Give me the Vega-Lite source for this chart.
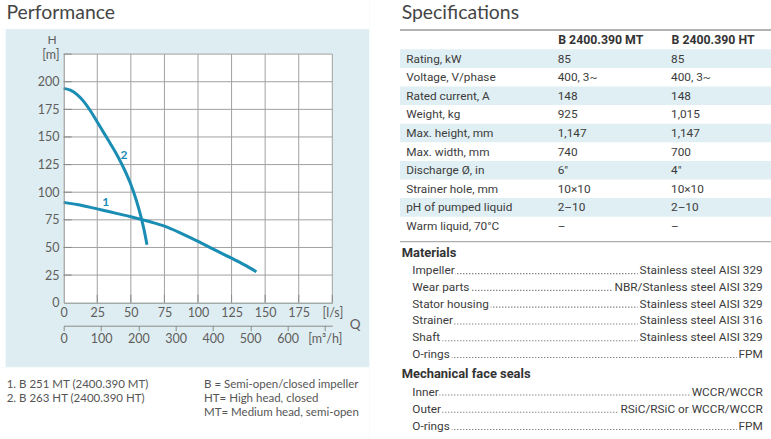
{
  "$schema": "https://vega.github.io/schema/vega-lite/v6.json",
  "width": 268.6,
  "height": 248.6,
  "autosize": {"type": "none"},
  "padding": {"left": 63.7, "top": 54.1, "right": 438.7, "bottom": 136.3},
  "background": "#deedf1",
  "config": {"view": {"fill": "white", "stroke": null}},
  "data": {"values": [{}]},
  "datasets": {
    "curves": [
      {"curve": "1", "q": 0, "h": 90.8}, {"curve": "1", "q": 10, "h": 88.8}, {"curve": "1", "q": 20, "h": 86.3},
      {"curve": "1", "q": 30, "h": 83.5}, {"curve": "1", "q": 40, "h": 80.6}, {"curve": "1", "q": 50, "h": 77.8},
      {"curve": "1", "q": 58, "h": 75.3}, {"curve": "1", "q": 65, "h": 73}, {"curve": "1", "q": 75, "h": 69.3},
      {"curve": "1", "q": 87.5, "h": 62.8}, {"curve": "1", "q": 100, "h": 55.5}, {"curve": "1", "q": 112.5, "h": 47.8},
      {"curve": "1", "q": 125, "h": 40.3}, {"curve": "1", "q": 135, "h": 34}, {"curve": "1", "q": 143.5, "h": 28},
      {"curve": "2", "q": 0, "h": 194}, {"curve": "2", "q": 5, "h": 192.3}, {"curve": "2", "q": 10, "h": 188.3},
      {"curve": "2", "q": 15, "h": 182}, {"curve": "2", "q": 20, "h": 173.5}, {"curve": "2", "q": 25, "h": 163.5},
      {"curve": "2", "q": 30, "h": 153.5}, {"curve": "2", "q": 35, "h": 143.5}, {"curve": "2", "q": 40, "h": 133},
      {"curve": "2", "q": 45, "h": 121}, {"curve": "2", "q": 50, "h": 107}, {"curve": "2", "q": 54, "h": 93},
      {"curve": "2", "q": 57.5, "h": 78}, {"curve": "2", "q": 60, "h": 65}, {"curve": "2", "q": 62, "h": 52.5}
    ],
    "curveLabels": [
      {"curve": "1", "q": 31.3, "h": 91.4},
      {"curve": "2", "q": 44.9, "h": 133.6}
    ],
    "gridQ": [{"q": 25}, {"q": 50}, {"q": 75}, {"q": 100}, {"q": 125}, {"q": 150}, {"q": 175}, {"q": 200}],
    "gridH": [{"h": 25}, {"h": 50}, {"h": 75}, {"h": 100}, {"h": 125}, {"h": 150}, {"h": 175}, {"h": 200}, {"h": 225}],
    "titles": [{"heading": "Performance"}, {"heading": "Specifications"}],
    "notes": [
      {"group": "curves", "note": "1. B 251 MT (2400.390 MT)"},
      {"group": "curves", "note": "2. B 263 HT (2400.390 HT)"},
      {"group": "codes", "note": "B = Semi-open/closed impeller"},
      {"group": "codes", "note": "HT= High head, closed"},
      {"group": "codes", "note": "MT= Medium head, semi-open"}
    ],
    "specs": [
      {"Spec": "Rating, kW", "MT": "85", "HT": "85"},
      {"Spec": "Voltage, V/phase", "MT": "400, 3~", "HT": "400, 3~"},
      {"Spec": "Rated current, A", "MT": "148", "HT": "148"},
      {"Spec": "Weight, kg", "MT": "925", "HT": "1,015"},
      {"Spec": "Max. height, mm", "MT": "1,147", "HT": "1,147"},
      {"Spec": "Max. width, mm", "MT": "740", "HT": "700"},
      {"Spec": "Discharge Ø, in", "MT": "6\"", "HT": "4\""},
      {"Spec": "Strainer hole, mm", "MT": "10×10", "HT": "10×10"},
      {"Spec": "pH of pumped liquid", "MT": "2–10", "HT": "2–10"},
      {"Spec": "Warm liquid, 70°C", "MT": "–", "HT": "–"}
    ],
    "materials": [
      {"section": "Materials", "part": "Impeller", "material": "Stainless steel AISI 329"},
      {"section": "Materials", "part": "Wear parts", "material": "NBR/Stanless steel AISI 329"},
      {"section": "Materials", "part": "Stator housing", "material": "Stainless steel AISI 329"},
      {"section": "Materials", "part": "Strainer", "material": "Stainless steel AISI 316"},
      {"section": "Materials", "part": "Shaft", "material": "Stainless steel AISI 329"},
      {"section": "Materials", "part": "O-rings", "material": "FPM"},
      {"section": "Mechanical face seals", "part": "Inner", "material": "WCCR/WCCR"},
      {"section": "Mechanical face seals", "part": "Outer", "material": "RSiC/RSiC or WCCR/WCCR"},
      {"section": "Mechanical face seals", "part": "O-rings", "material": "FPM"}
    ]
  },
  "layer": [
    {
      "layer": [
        {
          "data": {"name": "gridQ"},
          "mark": {"type": "rule", "color": "#a0a0a0", "strokeWidth": 1},
          "encoding": {
            "x": {"field": "q", "type": "quantitative", "scale": {"domain": [0, 200], "nice": false}, "axis": null},
            "y": {"datum": 0, "type": "quantitative", "scale": {"domain": [0, 225], "nice": false}, "axis": null},
            "y2": {"datum": 225}
          }
        },
        {
          "data": {"name": "gridH"},
          "mark": {"type": "rule", "color": "#a0a0a0", "strokeWidth": 1},
          "encoding": {
            "y": {"field": "h", "type": "quantitative", "scale": {"domain": [0, 225], "nice": false}, "axis": null},
            "x": {"datum": 0, "type": "quantitative", "scale": {"domain": [0, 200], "nice": false}, "axis": null},
            "x2": {"datum": 200}
          }
        },
        {
          "data": {"name": "gridQ"},
          "mark": {"type": "rule", "color": "#8a8a8a", "strokeWidth": 1},
          "encoding": {
            "x": {"field": "q", "type": "quantitative", "scale": {"domain": [0, 200], "nice": false}, "axis": null},
            "y": {"datum": 0, "type": "quantitative", "scale": {"domain": [0, 225], "nice": false}, "axis": null},
            "y2": {"datum": 7.2}
          }
        },
        {
          "data": {"name": "gridH"},
          "mark": {"type": "rule", "color": "#8a8a8a", "strokeWidth": 1},
          "encoding": {
            "y": {"field": "h", "type": "quantitative", "scale": {"domain": [0, 225], "nice": false}, "axis": null},
            "x": {"datum": 0, "type": "quantitative", "scale": {"domain": [0, 200], "nice": false}, "axis": null},
            "x2": {"datum": 6}
          }
        }
      ]
    },
    {
      "encoding": {
        "x": {"field": "q", "type": "quantitative", "scale": {"domain": [0, 200], "nice": false},
              "axis": {"orient": "bottom", "values": [0, 25, 50, 75, 100, 125, 150, 175, 200],
                       "labelExpr": "datum.value == 200 ? '[l/s]' : datum.label", "title": null,
                       "grid": false, "ticks": false,
                       "domainColor": "#8a8a8a", "domainWidth": 1,
                       "labelPadding": 4, "labelFont": "Lato", "labelFontSize": 12.5, "labelColor": "#5e5e5e",
                       "labelFlush": false, "labelOverlap": false, "zindex": 1}},
        "y": {"field": "h", "type": "quantitative", "scale": {"domain": [0, 225], "nice": false},
              "axis": {"orient": "left", "values": [0, 25, 50, 75, 100, 125, 150, 175, 200, 225],
                       "labelExpr": "datum.value == 225 ? '[m]' : datum.label",
                       "title": "H", "titleAngle": 0, "titleX": -12, "titleY": -15, "titleAlign": "center", "titleBaseline": "middle",
                       "titleFont": "Lato", "titleFontSize": 12, "titleFontWeight": "normal", "titleColor": "#5e5e5e",
                       "grid": false, "ticks": false,
                       "domainColor": "#8a8a8a", "domainWidth": 1,
                       "labelPadding": 4.7, "labelFont": "Lato", "labelFontSize": 12.5, "labelColor": "#5e5e5e",
                       "labelFlush": false, "labelOverlap": false, "zindex": 1}}
      },
      "layer": [
        {
          "data": {"name": "curves"},
          "mark": {"type": "line", "color": "#1a8db4", "strokeWidth": 3, "interpolate": "monotone"},
          "encoding": {"detail": {"field": "curve", "type": "nominal"}}
        },
        {
          "data": {"name": "curveLabels"},
          "mark": {"type": "text", "font": "Lato", "fontSize": 12, "fontWeight": "bold", "color": "#1a8db4", "align": "center", "baseline": "middle"},
          "encoding": {"text": {"field": "curve"}}
        }
      ]
    },
    {
      "layer": [
        {"mark": {"type": "rect", "color": "white"},
         "encoding": {"x": {"datum": 227.55, "type": "quantitative", "scale": {"domain": [0, 200], "nice": false}, "axis": null}, "x2": {"datum": 600},
                      "y": {"datum": 300, "type": "quantitative", "scale": {"domain": [0, 225], "nice": false}, "axis": null}, "y2": {"datum": -150}}},
        {"mark": {"type": "rect", "color": "white"},
         "encoding": {"x": {"datum": -60, "type": "quantitative", "scale": {"domain": [0, 200], "nice": false}, "axis": null}, "x2": {"datum": 227.55},
                      "y": {"datum": 300, "type": "quantitative", "scale": {"domain": [0, 225], "nice": false}, "axis": null}, "y2": {"datum": 247.4}}},
        {"mark": {"type": "rect", "color": "white"},
         "encoding": {"x": {"datum": -60, "type": "quantitative", "scale": {"domain": [0, 200], "nice": false}, "axis": null}, "x2": {"datum": 227.55},
                      "y": {"datum": -58.46, "type": "quantitative", "scale": {"domain": [0, 225], "nice": false}, "axis": null}, "y2": {"datum": -150}}},
        {"mark": {"type": "rect", "color": "white"},
         "encoding": {"x": {"datum": -60, "type": "quantitative", "scale": {"domain": [0, 200], "nice": false}, "axis": null}, "x2": {"datum": -43.19},
                      "y": {"datum": 247.4, "type": "quantitative", "scale": {"domain": [0, 225], "nice": false}, "axis": null}, "y2": {"datum": -58.46}}}
      ]
    },
    {
      "mark": {"type": "point", "opacity": 0},
      "encoding": {
        "x": {"datum": 0, "type": "quantitative", "scale": {"domain": [0, 720], "nice": false},
              "axis": {"orient": "bottom", "offset": 23, "values": [0, 100, 200, 300, 400, 500, 600, 700],
                       "labelExpr": "datum.value == 700 ? '[m³/h]' : datum.label",
                       "grid": false, "domainColor": "#8a8a8a", "domainWidth": 1, "tickColor": "#8a8a8a", "tickSize": 5, "tickWidth": 1,
                       "labelPadding": 1.5, "labelFont": "Lato", "labelFontSize": 12.5, "labelColor": "#5e5e5e",
                       "labelFlush": false, "labelOverlap": false,
                       "title": "Q", "titleX": 291, "titleY": -1.5, "titleAngle": 0, "titleAlign": "center", "titleBaseline": "middle",
                       "titleFont": "Lato", "titleFontSize": 13.5, "titleFontWeight": "normal", "titleColor": "#5e5e5e", "zindex": 0}}
      }
    },
    {
      "data": {"name": "titles"},
      "mark": {"type": "text", "align": "left", "baseline": "alphabetic", "font": "Lato", "fontSize": 19.4, "color": "#454545"},
      "encoding": {
        "x": {"field": "heading", "type": "nominal", "scale": {"type": "point", "domain": ["Performance", "Specifications"], "range": [-57.3, 338], "padding": 0}, "axis": null},
        "y": {"field": "heading", "type": "nominal", "scale": {"type": "point", "domain": ["Performance", "Specifications"], "range": [-35.5, -35.5], "padding": 0}, "axis": null},
        "text": {"field": "heading"}
      }
    },
    {
      "data": {"name": "notes"},
      "transform": [{"window": [{"op": "row_number", "as": "line"}], "groupby": ["group"]}],
      "mark": {"type": "text", "align": "left", "baseline": "middle", "font": "Lato", "fontSize": 11.5, "color": "#555555"},
      "encoding": {
        "x": {"field": "group", "type": "nominal", "scale": {"type": "point", "domain": ["curves", "codes"], "range": [-57, 140.3], "padding": 0}, "axis": null},
        "y": {"field": "line", "type": "ordinal", "scale": {"type": "point", "domain": [1, 2, 3], "range": [330.9, 359.2], "padding": 0}, "axis": null},
        "text": {"field": "note"}
      }
    },
    {
      "data": {"name": "specs"},
      "transform": [{"window": [{"op": "row_number", "as": "r"}]}, {"filter": "datum.r % 2 == 1"}],
      "mark": {"type": "rect", "color": "#e0eff3"},
      "encoding": {
        "y": {"field": "Spec", "type": "nominal", "scale": {"type": "band", "domain": ["Rating, kW", "Voltage, V/phase", "Rated current, A", "Weight, kg", "Max. height, mm", "Max. width, mm", "Discharge Ø, in", "Strainer hole, mm", "pH of pumped liquid", "Warm liquid, 70°C"], "range": [-4.8, 181.2], "paddingInner": 0, "paddingOuter": 0}, "axis": null},
        "x": {"datum": 0, "type": "quantitative", "scale": {"domain": [0, 1], "range": [336.3, 707.3], "nice": false}, "axis": null},
        "x2": {"datum": 1}
      }
    },
    {
      "mark": {"type": "rule", "color": "#666666", "strokeWidth": 1.2},
      "encoding": {
        "x": {"datum": 0, "type": "quantitative", "scale": {"domain": [0, 1], "range": [336.3, 707.3], "nice": false}, "axis": null},
        "x2": {"datum": 1},
        "y": {"datum": 0, "type": "quantitative", "scale": {"domain": [0, 1], "range": [-24.1, 187.6], "nice": false}, "axis": null}
      }
    },
    {
      "mark": {"type": "rule", "color": "#999999", "strokeWidth": 1},
      "encoding": {
        "x": {"datum": 0, "type": "quantitative", "scale": {"domain": [0, 1], "range": [336.3, 707.3], "nice": false}, "axis": null},
        "x2": {"datum": 1},
        "y": {"datum": 1, "type": "quantitative", "scale": {"domain": [0, 1], "range": [-24.1, 187.6], "nice": false}, "axis": null}
      }
    },
    {
      "data": {"name": "specs"},
      "transform": [{"fold": ["MT", "HT"], "as": ["model", "value"]}],
      "mark": {"type": "text", "align": "left", "baseline": "middle", "font": "Roboto", "fontSize": 11.8, "color": "#3c3c3c"},
      "encoding": {
        "x": {"field": "model", "type": "nominal", "scale": {"type": "point", "domain": ["MT", "HT"], "range": [494, 607.3], "padding": 0},
              "axis": {"orient": "top", "title": null, "domain": false, "ticks": false, "grid": false, "labelAngle": 0,
                       "labelExpr": "'B 2400.390 ' + datum.value",
                       "labelAlign": "left", "labelBaseline": "middle", "labelPadding": 14.8, "labelOverlap": false,
                       "labelFont": "Roboto", "labelFontSize": 12.3, "labelFontWeight": "bold", "labelColor": "#333333", "zindex": 1}},
        "y": {"field": "Spec", "type": "nominal", "scale": {"type": "band", "domain": ["Rating, kW", "Voltage, V/phase", "Rated current, A", "Weight, kg", "Max. height, mm", "Max. width, mm", "Discharge Ø, in", "Strainer hole, mm", "pH of pumped liquid", "Warm liquid, 70°C"], "range": [-4.8, 181.2], "paddingInner": 0, "paddingOuter": 0},
              "axis": {"orient": "left", "offset": -342, "title": null, "domain": false, "ticks": false, "grid": false,
                       "labelAlign": "left", "labelBaseline": "middle", "labelPadding": 0, "labelLimit": 0, "labelOverlap": false,
                       "labelFont": "Roboto", "labelFontSize": 11.8, "labelColor": "#3c3c3c", "zindex": 1}},
        "text": {"field": "value"}
      }
    },
    {
      "data": {"name": "materials"},
      "transform": [{"filter": "datum.section == 'Materials'"}],
      "layer": [
        {"mark": {"type": "rule", "strokeDash": [1, 2], "strokeWidth": 1.1, "color": "#555555", "yOffset": 3.5},
         "encoding": {"x": {"datum": 0, "type": "quantitative", "scale": {"domain": [0, 1], "range": [348.6, 699], "nice": false}, "axis": null}, "x2": {"datum": 1},
                      "y": {"field": "part", "type": "nominal", "scale": {"type": "point", "domain": ["Materials", "Impeller", "Wear parts", "Stator housing", "Strainer", "Shaft", "O-rings"], "range": [199.2, 299.9], "padding": 0}, "axis": null}}},
        {"mark": {"type": "text", "align": "left", "baseline": "middle", "font": "Roboto", "fontSize": 11.8, "fill": "white", "stroke": "white", "strokeWidth": 5},
         "encoding": {"x": {"datum": 0, "type": "quantitative", "scale": {"domain": [0, 1], "range": [348.6, 699], "nice": false}, "axis": null},
                      "y": {"field": "part", "type": "nominal", "scale": {"type": "point", "domain": ["Materials", "Impeller", "Wear parts", "Stator housing", "Strainer", "Shaft", "O-rings"], "range": [199.2, 299.9], "padding": 0}, "axis": null},
                      "text": {"field": "part"}}},
        {"mark": {"type": "text", "align": "right", "baseline": "middle", "font": "Roboto", "fontSize": 11.8, "fill": "white", "stroke": "white", "strokeWidth": 5},
         "encoding": {"x": {"datum": 1, "type": "quantitative", "scale": {"domain": [0, 1], "range": [348.6, 699], "nice": false}, "axis": null},
                      "y": {"field": "part", "type": "nominal", "scale": {"type": "point", "domain": ["Materials", "Impeller", "Wear parts", "Stator housing", "Strainer", "Shaft", "O-rings"], "range": [199.2, 299.9], "padding": 0}, "axis": null},
                      "text": {"field": "material"}}},
        {"mark": {"type": "text", "align": "left", "baseline": "middle", "font": "Roboto", "fontSize": 11.8, "color": "#3c3c3c"},
         "encoding": {"x": {"datum": 0, "type": "quantitative", "scale": {"domain": [0, 1], "range": [348.6, 699], "nice": false}, "axis": null},
                      "y": {"field": "part", "type": "nominal", "scale": {"type": "point", "domain": ["Materials", "Impeller", "Wear parts", "Stator housing", "Strainer", "Shaft", "O-rings"], "range": [199.2, 299.9], "padding": 0}, "axis": null},
                      "text": {"field": "part"}}},
        {"mark": {"type": "text", "align": "right", "baseline": "middle", "font": "Roboto", "fontSize": 11.8, "color": "#3c3c3c"},
         "encoding": {"x": {"datum": 1, "type": "quantitative", "scale": {"domain": [0, 1], "range": [348.6, 699], "nice": false}, "axis": null},
                      "y": {"field": "part", "type": "nominal", "scale": {"type": "point", "domain": ["Materials", "Impeller", "Wear parts", "Stator housing", "Strainer", "Shaft", "O-rings"], "range": [199.2, 299.9], "padding": 0}, "axis": null},
                      "text": {"field": "material"}}},
        {"transform": [{"aggregate": [{"op": "count", "as": "n"}], "groupby": ["section"]}],
         "mark": {"type": "text", "align": "left", "baseline": "middle", "font": "Roboto", "fontSize": 12.9, "fontWeight": "bold", "color": "#333333", "dx": -10.6},
         "encoding": {"x": {"datum": 0, "type": "quantitative", "scale": {"domain": [0, 1], "range": [348.6, 699], "nice": false}, "axis": null},
                      "y": {"field": "section", "type": "nominal", "scale": {"type": "point", "domain": ["Materials", "Impeller", "Wear parts", "Stator housing", "Strainer", "Shaft", "O-rings"], "range": [199.2, 299.9], "padding": 0}, "axis": null},
                      "text": {"field": "section"}}}
      ]
    },
    {
      "data": {"name": "materials"},
      "transform": [{"filter": "datum.section == 'Mechanical face seals'"}],
      "layer": [
        {"mark": {"type": "rule", "strokeDash": [1, 2], "strokeWidth": 1.1, "color": "#555555", "yOffset": 3.5},
         "encoding": {"x": {"datum": 0, "type": "quantitative", "scale": {"domain": [0, 1], "range": [348.6, 699], "nice": false}, "axis": null}, "x2": {"datum": 1},
                      "y": {"field": "part", "type": "nominal", "scale": {"type": "point", "domain": ["Mechanical face seals", "Inner", "Outer", "O-rings"], "range": [320.2, 371.9], "padding": 0}, "axis": null}}},
        {"mark": {"type": "text", "align": "left", "baseline": "middle", "font": "Roboto", "fontSize": 11.8, "fill": "white", "stroke": "white", "strokeWidth": 5},
         "encoding": {"x": {"datum": 0, "type": "quantitative", "scale": {"domain": [0, 1], "range": [348.6, 699], "nice": false}, "axis": null},
                      "y": {"field": "part", "type": "nominal", "scale": {"type": "point", "domain": ["Mechanical face seals", "Inner", "Outer", "O-rings"], "range": [320.2, 371.9], "padding": 0}, "axis": null},
                      "text": {"field": "part"}}},
        {"mark": {"type": "text", "align": "right", "baseline": "middle", "font": "Roboto", "fontSize": 11.8, "fill": "white", "stroke": "white", "strokeWidth": 5},
         "encoding": {"x": {"datum": 1, "type": "quantitative", "scale": {"domain": [0, 1], "range": [348.6, 699], "nice": false}, "axis": null},
                      "y": {"field": "part", "type": "nominal", "scale": {"type": "point", "domain": ["Mechanical face seals", "Inner", "Outer", "O-rings"], "range": [320.2, 371.9], "padding": 0}, "axis": null},
                      "text": {"field": "material"}}},
        {"mark": {"type": "text", "align": "left", "baseline": "middle", "font": "Roboto", "fontSize": 11.8, "color": "#3c3c3c"},
         "encoding": {"x": {"datum": 0, "type": "quantitative", "scale": {"domain": [0, 1], "range": [348.6, 699], "nice": false}, "axis": null},
                      "y": {"field": "part", "type": "nominal", "scale": {"type": "point", "domain": ["Mechanical face seals", "Inner", "Outer", "O-rings"], "range": [320.2, 371.9], "padding": 0}, "axis": null},
                      "text": {"field": "part"}}},
        {"mark": {"type": "text", "align": "right", "baseline": "middle", "font": "Roboto", "fontSize": 11.8, "color": "#3c3c3c"},
         "encoding": {"x": {"datum": 1, "type": "quantitative", "scale": {"domain": [0, 1], "range": [348.6, 699], "nice": false}, "axis": null},
                      "y": {"field": "part", "type": "nominal", "scale": {"type": "point", "domain": ["Mechanical face seals", "Inner", "Outer", "O-rings"], "range": [320.2, 371.9], "padding": 0}, "axis": null},
                      "text": {"field": "material"}}},
        {"transform": [{"aggregate": [{"op": "count", "as": "n"}], "groupby": ["section"]}],
         "mark": {"type": "text", "align": "left", "baseline": "middle", "font": "Roboto", "fontSize": 12.9, "fontWeight": "bold", "color": "#333333", "dx": -10.6},
         "encoding": {"x": {"datum": 0, "type": "quantitative", "scale": {"domain": [0, 1], "range": [348.6, 699], "nice": false}, "axis": null},
                      "y": {"field": "section", "type": "nominal", "scale": {"type": "point", "domain": ["Mechanical face seals", "Inner", "Outer", "O-rings"], "range": [320.2, 371.9], "padding": 0}, "axis": null},
                      "text": {"field": "section"}}}
      ]
    }
  ],
  "resolve": {"scale": {"x": "independent", "y": "independent"}, "axis": {"x": "independent", "y": "independent"}}
}
